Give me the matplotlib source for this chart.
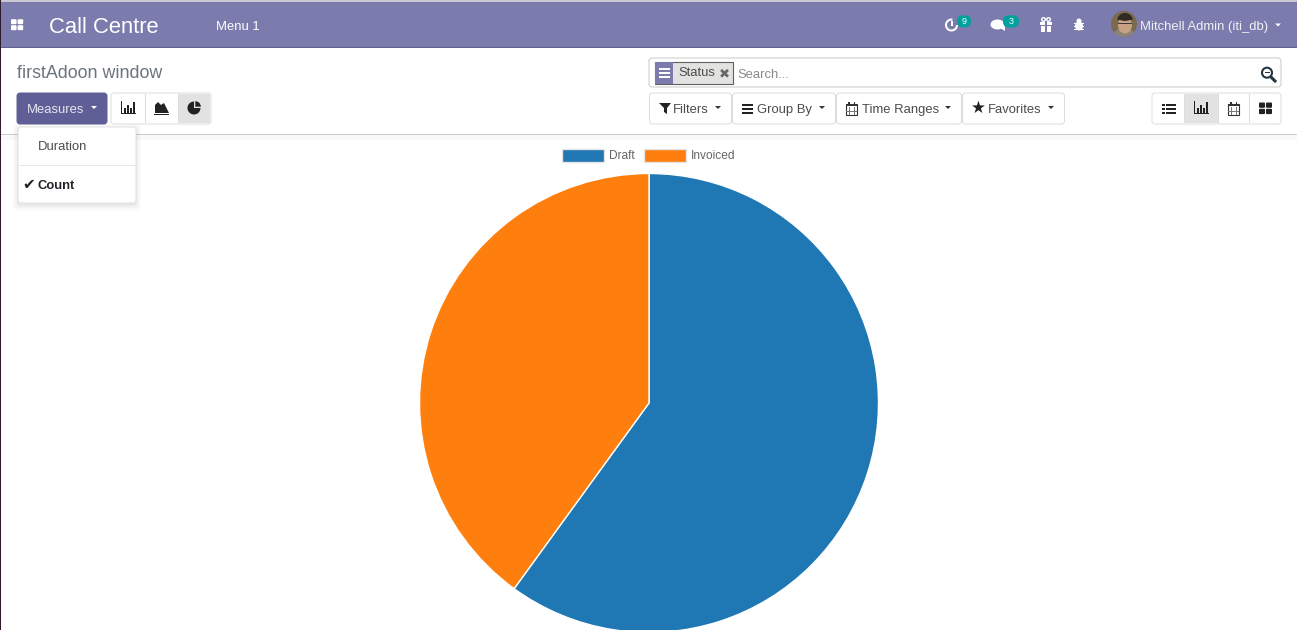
import matplotlib
matplotlib.use('Agg')
import matplotlib.pyplot as plt
from matplotlib.patches import Rectangle, FancyBboxPatch, Circle, Ellipse, Polygon, Wedge

plt.rcParams['font.family'] = ['Liberation Sans', 'DejaVu Sans']

# chart data
labels = ['Draft', 'Invoiced']
counts = [3, 2]
colors = ['#1f77b4', '#ff7f0e']

# page text
app_name = 'Call Centre'
menu_name = 'Menu 1'
user_name = 'Mitchell Admin (iti_db)'
window_title = 'firstAdoon window'
search_buttons = ['Filters', 'Group By', 'Time Ranges', 'Favorites']
measures = ['Duration', 'Count']

W, H = 1297, 630
fig = plt.figure(figsize=(W / 100, H / 100), dpi=100, facecolor='white')

# overlay in pixel coordinates for the page around the chart
ax = fig.add_axes([0, 0, 1, 1])
ax.set_xlim(0, W)
ax.set_ylim(H, 0)
ax.axis('off')


def rect(x, y, w, h, color, z=1, ec='none', lw=0):
    ax.add_patch(Rectangle((x, y), w, h, fc=color, ec=ec, lw=lw, zorder=z))


def rbox(x, y, w, h, fc='white', ec='#dcdcdc', z=2, r=3, lw=0.7):
    ax.add_patch(FancyBboxPatch((x + r, y + r), w - 2 * r, h - 2 * r,
                                boxstyle='round,pad=%d,rounding_size=%d' % (r, r),
                                fc=fc, ec=ec, lw=lw, zorder=z))


# y is the text baseline in pixels
def label(x, y, s, size=9.4, color='#4c4c4c', z=6, **kw):
    ax.text(x, y, s, fontsize=size, color=color, va='baseline', zorder=z, **kw)


def caret(x, y, color='#333333', z=6):
    ax.add_patch(Polygon([(x - 3, y - 1.5), (x + 3, y - 1.5), (x, y + 1.5)], fc=color, ec='none', zorder=z))


def bars_icon(x, y, color='#222222', z=6):
    for dx, h in zip([3, 6, 9, 12], [5, 8, 5, 11]):
        rect(x + dx, y + 11 - h, 2, h, color, z)
    rect(x, y - 1, 1.2, 13, color, z)
    rect(x, y + 11, 15, 1.2, color, z)


def calendar_icon(x, y, color='#333333', z=6):
    ax.add_patch(Rectangle((x, y + 1), 11, 11, fc='white', ec=color, lw=0.8, zorder=z))
    rect(x, y + 1, 11, 2.5, color, z)
    rect(x + 2, y - 0.5, 1.5, 2.5, color, z)
    rect(x + 7.5, y - 0.5, 1.5, 2.5, color, z)
    for i in [3, 5.5, 8]:
        rect(x + i, y + 4, 0.7, 8, '#777777', z + 1)
    for j in [6, 8.5]:
        rect(x, y + j, 11, 0.7, '#777777', z + 1)


def grid_icon(x, y, color, gap=1.0, w=5.6, h=5.0, z=6):
    for dx in [0, w + gap]:
        for dy in [0, h + gap]:
            ax.add_patch(FancyBboxPatch((x + dx, y + dy), w, h, boxstyle='round,pad=0,rounding_size=1',
                                        fc=color, ec='none', zorder=z))


def badge(x, w, s):
    ax.add_patch(FancyBboxPatch((x + 6, 21.3), w - 12, 0.1, boxstyle='round,pad=6,rounding_size=6',
                                fc='#00a09d', ec='none', zorder=7))
    ax.text(x + w / 2, 24, s, fontsize=6.5, color='white', ha='center', va='baseline', zorder=8)


# left edge, navbar
rect(0, 0, 1, H, '#2e1a2c', 8)
rect(0, 0, W, 48, '#7c7bad')
rect(0, 0, W, 1.5, '#c9c9d6', 2)
rect(0, 47, W, 1, '#5f5e8c', 2)
grid_icon(11, 19.2, 'white')
label(49, 32.7, app_name, size=15.8, color='white')
label(216, 30.3, menu_name, color='white')

# activity + messages + gift + bug (y axis is flipped, wedge angles run clockwise)
ax.add_patch(Wedge((951.5, 25), 6.5, 0, 280, width=2, fc='white', ec='none', zorder=6))
rect(951, 21, 1.5, 5, 'white', 7)
badge(957, 14, '9')
ax.add_patch(Ellipse((997.5, 24.5), 14, 10, fc='white', ec='none', zorder=6))
ax.add_patch(Polygon([(1000, 28), (1005, 31), (1005, 26)], fc='white', ec='none', zorder=6))
badge(1003, 16, '3')
rect(1040, 21.5, 12, 3.5, 'white', 6)
rect(1041, 25.8, 10, 6, 'white', 6)
rect(1045.3, 21, 1.5, 11, '#7c7bad', 7)
ax.add_patch(Circle((1043.5, 19.5), 1.8, fc='none', ec='white', lw=1, zorder=6))
ax.add_patch(Circle((1048.5, 19.5), 1.8, fc='none', ec='white', lw=1, zorder=6))
ax.add_patch(Ellipse((1079, 26), 8, 9, fc='white', ec='none', zorder=6))
ax.add_patch(Circle((1079, 21), 2.5, fc='white', ec='none', zorder=6))
for yy in [22.5, 25.5, 28.5]:
    rect(1074, yy, 10, 1, 'white', 6)

# avatar
ax.add_patch(Circle((1124, 24), 13, fc='#7b6a4e', ec='none', zorder=6))
ax.add_patch(Ellipse((1125, 25), 14, 17, fc='#c8a184', ec='none', zorder=7))
ax.add_patch(Wedge((1125, 21), 8, 190, 350, fc='#2f2a25', ec='none', zorder=8))
rect(1118, 23, 14, 1, '#3a3a3a', 9)
ax.add_patch(Wedge((1124, 24), 13, 40, 140, fc='#8d8478', ec='none', zorder=6.5))
label(1140, 30, user_name, color='#f0f0f6')
caret(1278, 25, 'white')

# control panel
label(17, 78, window_title, size=12.9, color='#6c757d')
rect(0, 134, W, 1, '#cccccc', 1)
rect(0, 135, W, 5, '#f9f9f9', 1)

rbox(17, 93, 90, 31, fc='#5f5e97', ec='#5f5e97')
label(27, 113.3, 'Measures', color='#e6e6f0')
caret(94, 107.5, 'white')

rbox(111, 93, 100, 31)
rect(179, 94, 31, 29, '#e2e2e2', 3)
for xx in [145, 178]:
    rect(xx, 94, 1, 29, '#dddddd', 4)
bars_icon(121, 102)
ax.add_patch(Polygon([(155, 113), (155, 105), (158, 102), (161, 105), (164, 103), (169, 113)], fc='#222222', ec='none', zorder=6))
rect(154, 113.5, 15, 1.2, '#222222', 6)
ax.add_patch(Wedge((194, 108), 6.5, 0, 270, fc='#222222', ec='none', zorder=6))
ax.add_patch(Wedge((195.3, 106.7), 5.5, 270, 360, fc='#222222', ec='none', zorder=6))

# measures dropdown, soft shadow first
for grow, alpha in zip([5, 3, 1], [0.02, 0.03, 0.04]):
    ax.add_patch(FancyBboxPatch((18, 129), 118, 76, boxstyle='round,pad=%d,rounding_size=4' % grow,
                                fc='black', ec='none', alpha=alpha, zorder=9))
rbox(18, 127, 118, 76, ec='#e2e2e2', z=10)
rect(18, 165, 118, 1, '#e8e8e8', 11)
label(38, 150.3, measures[0], z=12)
label(38, 189.3, measures[1], weight='bold', color='#212529', z=12)
label(22, 189.3, '\u2714', size=11, color='#212529', z=12)

# search box
rbox(649, 58, 632, 29, ec='#c8c8c8')
rect(655, 61.5, 78, 22, '#e2e2e0', 3, ec='#5f5f5f', lw=0.8)
rect(655, 61.5, 18, 22, '#7c7bad', 4)
for yy in [68, 72, 76]:
    rect(659, yy, 11, 1.5, 'white', 5)
label(678, 76, 'Status')
label(719, 77.5, '\u2716', size=9.5, color='#666666')
label(737, 78, 'Search...', color='#8a8a8a')
ax.add_patch(Circle((1267, 72.7), 5, fc='none', ec='#243742', lw=1.5, zorder=6))
rect(1264.5, 72, 5, 1.4, '#243742', 6)
ax.plot([1271, 1275], [77, 81], color='#243742', lw=2.2, zorder=6)

# search option buttons
btn_x = [649, 732, 836, 962]
btn_w = [83, 104, 126, 103]
text_x = [673, 757, 862, 988]
caret_x = [718, 822, 948, 1051]
for x, w, tx, cx, s in zip(btn_x, btn_w, text_x, caret_x, search_buttons):
    rbox(x + 0.5, 93, w - 1, 31)
    label(tx, 113.3, s)
    caret(cx, 107.5)
ax.add_patch(Polygon([(659, 103), (671, 103), (667, 108), (667, 114), (664, 112), (664, 108)], fc='#222222', ec='none', zorder=6))
for yy in [104, 108, 112]:
    rect(742, yy, 11, 1.6, '#222222', 6)
calendar_icon(846, 102.5)
label(971, 113, '\u2605', size=12, color='#222222')

# view switcher
rbox(1152, 93, 129, 31)
rect(1185, 94, 34, 29, '#e2e2e2', 3)
for xx in [1184, 1218, 1249]:
    rect(xx, 94, 1, 29, '#dddddd', 4)
for yy in [103.5, 107.5, 111.5]:
    rect(1162, yy, 3, 2.4, '#222222', 6)
    rect(1166, yy, 9.5, 2.4, '#222222', 6)
bars_icon(1194, 102)
calendar_icon(1228, 102.5)
grid_icon(1259, 102.5, '#222222', w=6, h=5.3)

# legend
legend_x = [562, 644]
legend_text_x = [609, 691]
for x, tx, c, s in zip(legend_x, legend_text_x, colors, labels):
    rect(x, 149, 42, 13, c, 3, ec='#e4e4e4', lw=1)
    label(tx, 159, s, size=8.6, color='#666666')

# pie, runs a little past the bottom of the page
r = 229.5
cx, cy = 649, 403
pie_ax = fig.add_axes([(cx - r) / W, 1 - (cy + r) / H, 2 * r / W, 2 * r / H], zorder=0)
pie_ax.pie(counts, colors=colors, startangle=90, counterclock=False, radius=1,
           wedgeprops={'edgecolor': 'white', 'linewidth': 1.0})
pie_ax.set_xlim(-1, 1)
pie_ax.set_ylim(-1, 1)
ax.set_zorder(1)
ax.patch.set_alpha(0)

fig.savefig('out.png', dpi=100, facecolor='white')
